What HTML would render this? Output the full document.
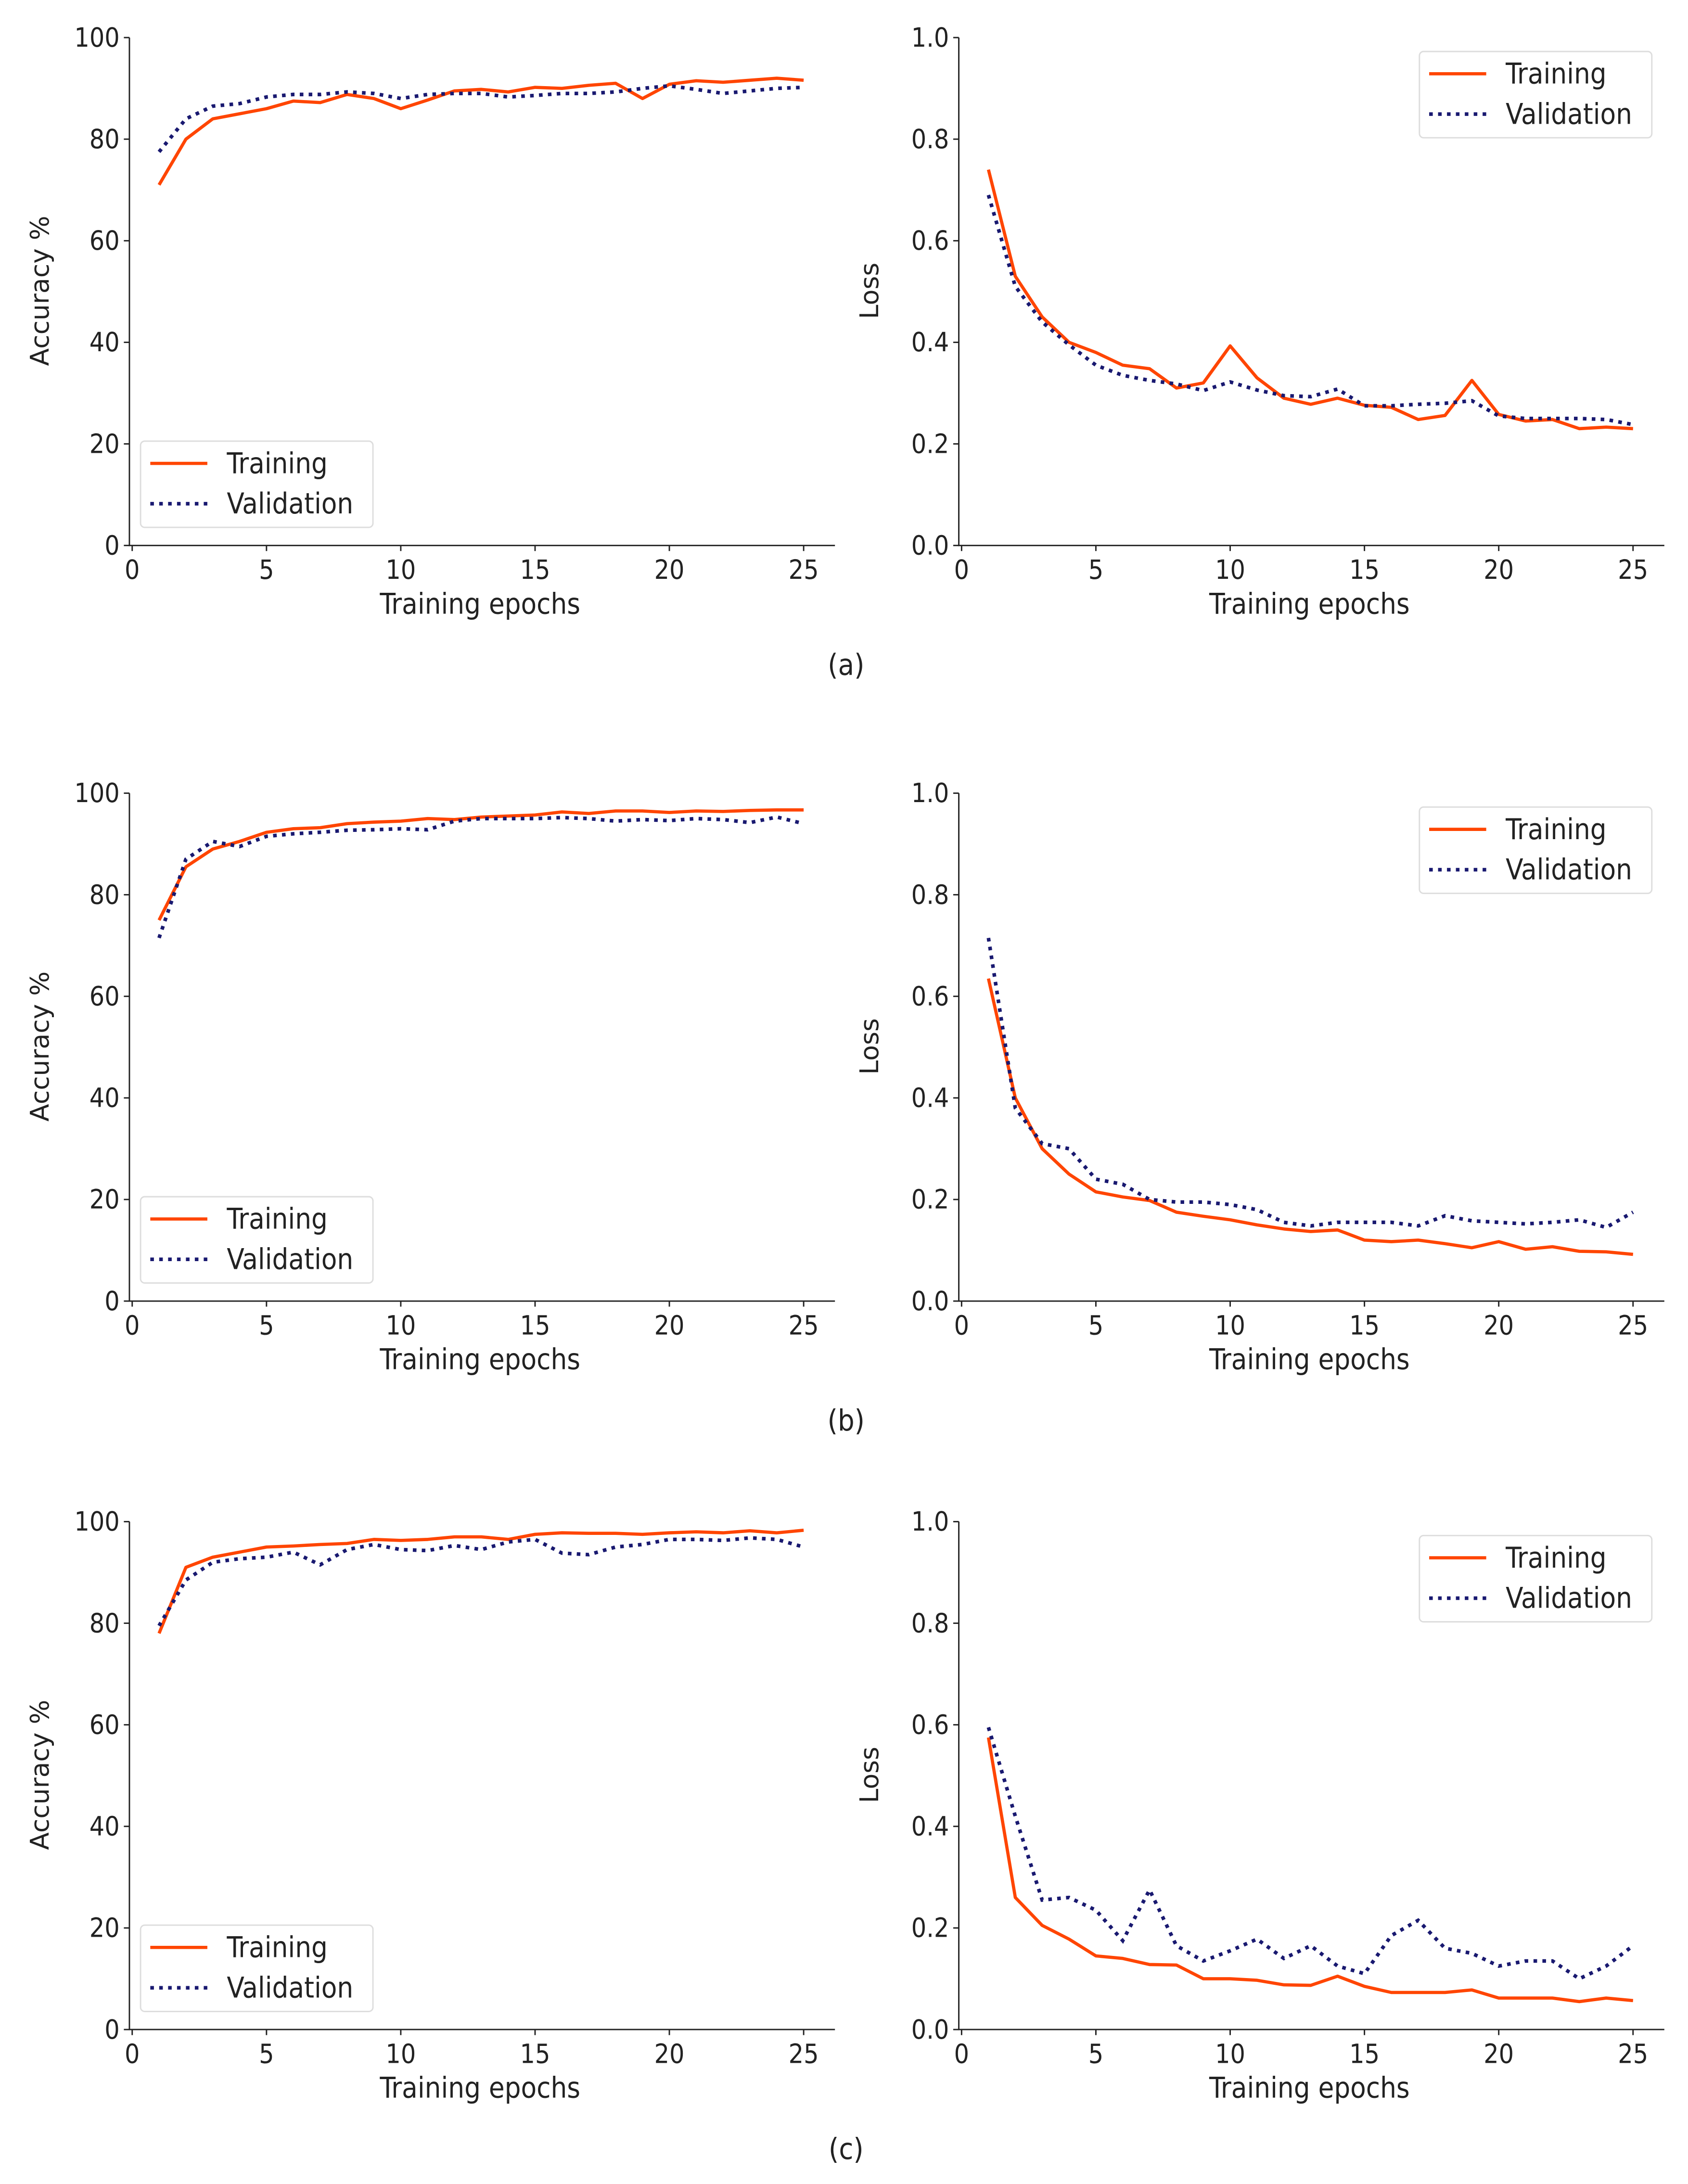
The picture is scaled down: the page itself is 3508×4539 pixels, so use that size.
<!DOCTYPE html>
<html><head><meta charset="utf-8"><style>
html,body{margin:0;padding:0;background:#fff;}
svg{display:block;}
text{font-family:"Liberation Sans Narrow","DejaVu Sans Condensed","Liberation Sans",sans-serif;fill:#222;}
.ax{font-family:"DejaVu Sans","Liberation Sans",sans-serif;}
</style></head><body>
<svg id="fig" width="3508" height="4539" viewBox="0 0 1213 1569.5" xmlns="http://www.w3.org/2000/svg"></svg>
<script>
const epochs = [1,2,3,4,5,6,7,8,9,10,11,12,13,14,15,16,17,18,19,20,21,22,23,24,25];
const accTicks = [0,20,40,60,80,100];
const lossTicks = ["0.0","0.2","0.4","0.6","0.8","1.0"];
const xTicks = [0,5,10,15,20,25];
const panelLabels = ["(a)","(b)","(c)"];
const accTrainA = [71,80,84,85,86,87.5,87.2,88.8,88,86,87.7,89.5,89.8,89.3,90.2,90,90.6,91,88,90.8,91.5,91.2,91.6,92,91.6];
const accValA = [77.5,84,86.5,87,88.3,88.8,88.8,89.3,89,88,88.8,89,89,88.3,88.6,89,89,89.3,90,90.5,89.8,89,89.5,90,90.2];
const lossTrainA = [0.74,0.53,0.45,0.40,0.38,0.355,0.348,0.31,0.32,0.393,0.33,0.29,0.278,0.29,0.276,0.272,0.248,0.256,0.325,0.258,0.245,0.248,0.23,0.233,0.23];
const lossValA = [0.69,0.51,0.44,0.395,0.355,0.335,0.325,0.318,0.305,0.322,0.306,0.295,0.293,0.308,0.275,0.275,0.278,0.28,0.285,0.255,0.25,0.25,0.25,0.248,0.238];
const accTrainB = [75,85.5,89,90.5,92.3,93,93.2,94,94.3,94.5,95,94.8,95.3,95.5,95.7,96.3,96,96.5,96.5,96.2,96.5,96.4,96.6,96.7,96.7];
const accValB = [71.5,87,90.5,89.5,91.5,92,92.3,92.7,92.8,93,92.8,94.5,95,95,95,95.2,95,94.5,94.8,94.6,95,94.8,94.2,95.3,94];
const lossTrainB = [0.635,0.40,0.30,0.25,0.215,0.205,0.198,0.175,0.167,0.16,0.15,0.142,0.137,0.14,0.12,0.117,0.12,0.113,0.105,0.117,0.102,0.107,0.098,0.097,0.092];
const lossValB = [0.715,0.38,0.31,0.30,0.24,0.23,0.2,0.195,0.195,0.19,0.18,0.155,0.148,0.155,0.155,0.155,0.148,0.168,0.158,0.155,0.152,0.155,0.16,0.145,0.175];
const accTrainC = [78,91,93,94,95,95.2,95.5,95.7,96.5,96.3,96.5,97,97,96.5,97.5,97.8,97.7,97.7,97.5,97.8,98,97.8,98.2,97.8,98.3];
const accValC = [79.5,88.5,92,92.7,93,94,91.5,94.5,95.5,94.5,94.3,95.3,94.5,96,96.5,93.8,93.5,95,95.5,96.5,96.5,96.3,96.8,96.5,95];
const lossTrainC = [0.575,0.26,0.205,0.178,0.145,0.14,0.128,0.127,0.1,0.1,0.097,0.088,0.087,0.105,0.085,0.073,0.073,0.073,0.078,0.062,0.062,0.062,0.055,0.062,0.057];
const lossValC = [0.595,0.42,0.255,0.26,0.235,0.175,0.275,0.165,0.135,0.155,0.178,0.14,0.165,0.125,0.11,0.185,0.215,0.16,0.15,0.125,0.135,0.135,0.1,0.125,0.165];

const NS = "http://www.w3.org/2000/svg";
const svg = document.getElementById("fig");
function mk(tag, attrs, parent){const e=document.createElementNS(NS,tag);for(const k in attrs)e.setAttribute(k,attrs[k]);(parent||svg).appendChild(e);return e;}
const ORANGE="#ff4500", NAVY="#191970";

function panel(x0, top, isLoss, train, val, name){
  const bottom = top + 365, axL = x0 - 2, axR = x0 + 505;
  const g = mk("g",{});
  
  
  const xs = e => x0 + e * 19.3;
  const ymax = isLoss ? 1 : 100;
  const ys = v => bottom - v / ymax * 365;
  const ya = mk("line",{x1:axL,y1:top,x2:axL,y2:bottom+0.5,stroke:"#222","stroke-width":1},g);
  
  
  const xa = mk("line",{x1:axL-0.5,y1:bottom,x2:axR,y2:bottom,stroke:"#222","stroke-width":1},g);
  
  
  const yt = isLoss ? lossTicks : accTicks;
  yt.forEach((t,i)=>{
    const y = ys(isLoss ? parseFloat(t) : t);
    mk("line",{x1:axL-4,y1:y,x2:axL,y2:y,stroke:"#222","stroke-width":1},g);
    const tx = mk("text",{x:axL-7,y:y+6.5,"font-size":19,"text-anchor":"end"},g);
    tx.textContent = t;
    
    
  });
  xTicks.forEach(t=>{
    const x = xs(t);
    mk("line",{x1:x,y1:bottom,x2:x,y2:bottom+4,stroke:"#222","stroke-width":1},g);
    const tx = mk("text",{x:x,y:bottom+24,"font-size":19,"text-anchor":"middle"},g);
    tx.textContent = t;
    
    
  });
  const xl = mk("text",{x:x0+250,y:bottom+49,"font-size":20.5,"text-anchor":"middle"},g);
  xl.textContent = "Training epochs";
  
  
  const yl = mk("text",{x:0,y:0,"font-size":18.5,"text-anchor":"middle","class":"ax",transform:`translate(${x0-60},${top+182}) rotate(-90)`},g);
  yl.textContent = isLoss ? "Loss" : "Accuracy %";
  
  
  const pts = arr => arr.map((v,i)=>xs(epochs[i]).toFixed(2)+","+ys(v).toFixed(2)).join(" ");
  const pt = mk("polyline",{points:pts(train),fill:"none",stroke:ORANGE,"stroke-width":2.3,"stroke-linejoin":"round"},g);
  
  
  const pv = mk("polyline",{points:pts(val),fill:"none",stroke:NAVY,"stroke-width":2.6,"stroke-dasharray":"2.6,3.8"},g);
  
  
  let lx, ly;
  if(isLoss){ lx = x0 + 329; ly = top + 10; } else { lx = x0 + 6; ly = bottom - 75; }
  const lg = mk("g",{},g);
  
  
  mk("rect",{x:lx,y:ly,width:167,height:62,rx:3,fill:"#fff",stroke:"#ddd","stroke-width":1},lg);
  mk("line",{x1:lx+7,y1:ly+16,x2:lx+48,y2:ly+16,stroke:ORANGE,"stroke-width":2.3},lg);
  mk("line",{x1:lx+7,y1:ly+45,x2:lx+48,y2:ly+45,stroke:NAVY,"stroke-width":2.6,"stroke-dasharray":"2.6,3.8"},lg);
  const t1 = mk("text",{x:lx+62,y:ly+23,"font-size":20.5},lg); t1.textContent="Training";
  
  
  const t2 = mk("text",{x:lx+62,y:ly+52,"font-size":20.5},lg); t2.textContent="Validation";
  
  
}

const rows = [
  [27, accTrainA, accValA, lossTrainA, lossValA],
  [570, accTrainB, accValB, lossTrainB, lossValB],
  [1093.5, accTrainC, accValC, lossTrainC, lossValC]
];
rows.forEach((r,i)=>{
  panel(95, r[0], false, r[1], r[2], "accuracy-panel-"+"abc"[i]);
  panel(691, r[0], true, r[3], r[4], "loss-panel-"+"abc"[i]);
  const lab = mk("text",{x:608,y:r[0]+458,"font-size":21,"text-anchor":"middle"});
  lab.textContent = panelLabels[i];
  
  
});
</script>
</body></html>
